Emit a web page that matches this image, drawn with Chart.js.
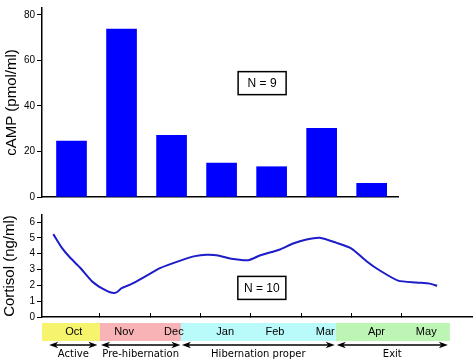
<!DOCTYPE html>
<html><head><meta charset="utf-8">
<script src="https://cdn.jsdelivr.net/npm/chart.js@4"></script>
<style>
html,body{margin:0;padding:0;background:#fff;width:474px;height:361px;overflow:hidden}
#c1{position:absolute;left:0;top:0}
#c2{position:absolute;left:0;top:205px}
</style></head><body>
<canvas id="c1" width="474" height="205"></canvas>
<canvas id="c2" width="474" height="156"></canvas>
<script>
// ---- data ----
const barMonths = ['Oct','Nov','Dec','Jan','Feb','Mar','Apr'];
const barIndex = [1,2,3,4,5,6,7];
const campValues = [24.6, 73.7, 27.1, 14.9, 13.3, 30.2, 6.0];
const campTicks = [0,20,40,60,80];

const cortisolX = [-0.928,-0.761,-0.596,-0.398,-0.165,0.034,0.199,0.318,0.431,0.630,0.861,1.193,1.656,1.889,2.121,2.352,2.584,2.948,3.181,3.579,3.843,4.109,4.374,4.706,5.004,5.302,5.567,5.930,6.294,6.561,6.706];
const cortisolY = [5.24,4.39,3.76,3.13,2.28,1.82,1.57,1.54,1.82,2.09,2.49,3.09,3.63,3.85,3.93,3.89,3.70,3.59,3.89,4.27,4.65,4.90,5.01,4.69,4.33,3.53,2.94,2.30,2.18,2.11,1.97];
const cortisolTicks = [0,1,2,3,4,5,6];
const monthBoundaryTicks = [0,1,2,3,4,5,6];

const months = ['Oct','Nov','Dec','Jan','Feb','Mar','Apr','May'];
const monthLabelX = [-0.52,0.48,1.47,2.49,3.48,4.48,5.50,6.49];
const bandStarts = [-1.153, 0, 1.61, 4.69];
const bandEnds = [0, 1.61, 4.69, 6.96];
const bandColors = ['#f6f46c','#f8b3b7','#b9fafb','#bdf5b5'];
const phaseNames = ['Active','Pre-hibernation','Hibernation proper','Exit'];
const phaseStarts = [-1.01, 0.02, 1.63, 4.71];
const phaseEnds = [-0.05, 1.60, 4.67, 6.92];

const nTop = {x: 4.81, y: 50, text: 'N = 9'};
const nBottom = {x: 3.22, y: 1.84, text: 'N = 10'};

Chart.defaults.font.family = 'Liberation Sans';
Chart.defaults.color = '#000';

function nBoxPlugin(info){
  return {id:'nbox', afterDatasetsDraw(chart){
    const ctx = chart.ctx;
    const px = chart.scales.x.getPixelForValue(info.x);
    const py = chart.scales.y.getPixelForValue(info.y);
    const w = 48, h = 23;
    ctx.save();
    ctx.fillStyle = '#fff';
    ctx.fillRect(px-w/2, py-h/2, w, h);
    ctx.strokeStyle = '#000'; ctx.lineWidth = 1.5;
    ctx.strokeRect(px-w/2, py-h/2, w, h);
    ctx.fillStyle = '#000';
    ctx.font = '12px "Liberation Sans"';
    ctx.textAlign = 'center'; ctx.textBaseline = 'middle';
    ctx.fillText(info.text, px, py+0.5);
    ctx.restore();
  }};
}

const yAxisCommon = (title, ticks, max, titlePad) => ({
  min: 0, max: max,
  afterBuildTicks: s => { s.ticks = ticks.map(v => ({value: v})); },
  ticks: {font: {size: 10}, color: '#000', padding: 2},
  grid: {drawOnChartArea: false, drawTicks: true, tickLength: 5, color: '#000', lineWidth: 1},
  border: {color: '#000', width: 1.5},
  title: {display: true, text: title, font: {size: 15}, color: '#000', padding: {top: titlePad, bottom: 0}},
  afterFit: s => { s.width = 42; }
});

new Chart(document.getElementById('c1'), {
  type: 'bar',
  data: {
    labels: barMonths,
    datasets: [{
      data: barIndex.map((x, i) => ({x: x, y: campValues[i]})),
      backgroundColor: '#0000ff',
      barThickness: 30
    }]
  },
  options: {
    responsive: false, animation: false,
    layout: {padding: {left: 0, right: 76, top: 3, bottom: 0}},
    plugins: {legend: {display: false}, tooltip: {enabled: false}},
    scales: {
      x: {type: 'linear', offset: false, min: 0.41, max: 7.526,
          ticks: {display: false}, grid: {display: false, drawTicks: false},
          border: {display: true, color: '#000', width: 1.5},
          afterFit: s => { s.height = 7; }},
      y: yAxisCommon('cAMP (pmol/ml)', campTicks, 83, 3)
    }
  },
  plugins: [nBoxPlugin(nTop)]
});

const bandsPlugin = {
  id: 'bands',
  afterDraw(chart){
    const ctx = chart.ctx;
    const xs = chart.scales.x;
    const b = chart.chartArea.bottom;
    ctx.save();
    // coloured month bands
    for (let i = 0; i < bandStarts.length; i++){
      const x0 = xs.getPixelForValue(bandStarts[i]);
      const x1 = xs.getPixelForValue(bandEnds[i]);
      ctx.fillStyle = bandColors[i];
      ctx.fillRect(x0, b + 6, x1 - x0, 18);
    }
    ctx.fillStyle = '#000';
    ctx.font = '11px "Liberation Sans"';
    ctx.textAlign = 'center'; ctx.textBaseline = 'middle';
    months.forEach((m, i) => ctx.fillText(m, xs.getPixelForValue(monthLabelX[i]), b + 15));
    // arrows
    const ay = b + 28;
    ctx.strokeStyle = '#000'; ctx.lineWidth = 1.3;
    for (let i = 0; i < phaseStarts.length; i++){
      const x0 = xs.getPixelForValue(phaseStarts[i]);
      const x1 = xs.getPixelForValue(phaseEnds[i]);
      ctx.beginPath(); ctx.moveTo(x0 + 4, ay); ctx.lineTo(x1 - 4, ay); ctx.stroke();
      ctx.beginPath();
      ctx.moveTo(x0, ay); ctx.lineTo(x0 + 9, ay - 3.2); ctx.lineTo(x0 + 6.5, ay); ctx.lineTo(x0 + 9, ay + 3.2); ctx.closePath(); ctx.fill();
      ctx.beginPath();
      ctx.moveTo(x1, ay); ctx.lineTo(x1 - 9, ay - 3.2); ctx.lineTo(x1 - 6.5, ay); ctx.lineTo(x1 - 9, ay + 3.2); ctx.closePath(); ctx.fill();
      ctx.font = '10px "DejaVu Sans"';
      ctx.fillText(phaseNames[i], (x0 + x1) / 2, b + 37);
    }
    ctx.restore();
  }
};

new Chart(document.getElementById('c2'), {
  type: 'line',
  data: {
    datasets: [{
      data: cortisolX.map((x, i) => ({x: x, y: cortisolY[i]})),
      borderColor: '#1c1cc8', borderWidth: 2, pointRadius: 0, tension: 0.2, fill: false
    }]
  },
  options: {
    responsive: false, animation: false,
    layout: {padding: {left: 0, right: 2, top: 10, bottom: 0}},
    plugins: {legend: {display: false}, tooltip: {enabled: false}},
    scales: {
      x: {type: 'linear', offset: false, min: -1.153, max: 7.40,
          afterBuildTicks: s => { s.ticks = monthBoundaryTicks.map(v => ({value: v})); },
          ticks: {display: false},
          grid: {drawOnChartArea: false, drawTicks: true, tickLength: -4, color: '#000', lineWidth: 1},
          border: {color: '#000', width: 1.5},
          afterFit: s => { s.height = 44; }},
      y: yAxisCommon('Cortisol (ng/ml)', cortisolTicks, 6.45, 1)
    }
  },
  plugins: [nBoxPlugin(nBottom), bandsPlugin]
});
</script>
</body></html>
